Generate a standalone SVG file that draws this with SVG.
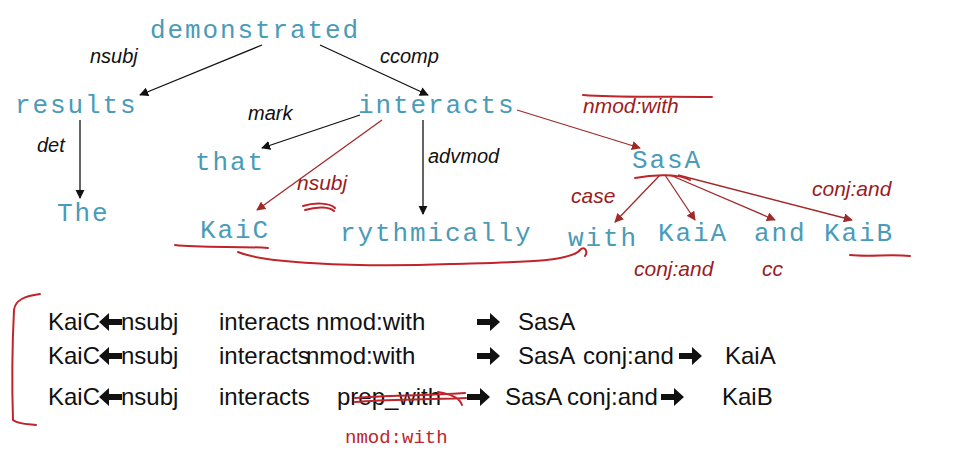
<svg xmlns="http://www.w3.org/2000/svg" width="960" height="452" viewBox="0 0 960 452">
<defs>
<style>
.w{font-family:"Liberation Mono","DejaVu Sans Mono",monospace;font-size:26px;letter-spacing:1.9px;fill:#4a9bb8}
.l{font-family:"Liberation Sans",Arial,sans-serif;font-style:italic;font-size:20px;fill:#111}
.r{font-family:"Liberation Sans",Arial,sans-serif;font-style:italic;font-size:21px;fill:#9b1c22}
.b{font-family:"Liberation Sans",Arial,sans-serif;font-size:24px;fill:#111}
.k{stroke:#111;stroke-width:1.3;fill:none;marker-end:url(#ak)}
.rd{stroke:#a02a2a;stroke-width:1.3;fill:none;marker-end:url(#ar)}
.h{stroke:#c0242a;stroke-width:2;fill:none;stroke-linecap:round}
</style>
<marker id="ak" viewBox="0 0 10 10" refX="9" refY="5" markerWidth="7" markerHeight="7" orient="auto"><path d="M0,0L10,5L0,10z" fill="#111"/></marker>
<marker id="ar" viewBox="0 0 10 10" refX="9" refY="5" markerWidth="7" markerHeight="7" orient="auto"><path d="M0,0L10,5L0,10z" fill="#a02a2a"/></marker>
<path id="la" d="M0,0l10,-9v6h13v6h-13v6z" fill="#111"/>
<path id="ra" d="M0,0l-10,-9v6h-13v6h13v6z" fill="#111"/>
</defs>
<rect width="960" height="452" fill="#fff"/>
<g id="connectors">
<path class="k" d="M262,45L140,95"/>
<path class="k" d="M320,45L428,95"/>
<path class="k" d="M80,120V198"/>
<path class="k" d="M360,115L262,148"/>
<path class="k" d="M423,120V214"/>
<path class="rd" d="M382,120L257,210"/>
<path class="rd" d="M517,110L640,148"/>
<path class="rd" d="M660,175L615,222"/>
<path class="rd" d="M665,175L695,220"/>
<path class="rd" d="M670,175L775,220"/>
<path class="rd" d="M678,175L852,220"/>
</g>
<g id="n-demonstrated"><text class="w" x="150" y="38">demonstrated</text></g>
<g id="n-results"><text class="w" x="15" y="113">results</text></g>
<g id="n-interacts"><text class="w" x="358" y="113">interacts</text></g>
<g id="n-that"><text class="w" x="195" y="170">that</text></g>
<g id="n-The"><text class="w" x="57" y="221">The</text></g>
<g id="n-KaiC"><text class="w" x="200" y="238">KaiC</text></g>
<g id="n-rythmically"><text class="w" x="340" y="241">rythmically</text></g>
<g id="n-SasA"><text class="w" x="632" y="168">SasA</text></g>
<g id="n-with"><text class="w" x="568" y="246">with</text></g>
<g id="n-KaiA"><text class="w" x="658" y="241">KaiA</text></g>
<g id="n-and"><text class="w" x="754" y="241">and</text></g>
<g id="n-KaiB"><text class="w" x="824" y="241">KaiB</text></g>
<g id="labels">
<text class="l" x="90" y="63">nsubj</text>
<text class="l" x="380" y="63">ccomp</text>
<text class="l" x="37" y="152">det</text>
<text class="l" x="248" y="120">mark</text>
<text class="l" x="428" y="163">advmod</text>
<text class="r" x="583" y="113">nmod:with</text>
<text class="r" x="297" y="190">nsubj</text>
<text class="r" x="571" y="203">case</text>
<text class="r" x="812" y="196">conj:and</text>
<text class="r" x="634" y="276">conj:and</text>
<text class="r" x="762" y="276">cc</text>
</g>
<g id="lines">
<text class="b" x="48" y="330">KaiC</text><use href="#la" x="99" y="322"/><text class="b" x="121" y="330">nsubj</text><text class="b" x="219" y="330">interacts</text><text class="b" x="316" y="330">nmod:with</text><use href="#ra" x="500" y="322"/><text class="b" x="518" y="330">SasA</text>
<text class="b" x="48" y="364">KaiC</text><use href="#la" x="99" y="356"/><text class="b" x="121" y="364">nsubj</text><text class="b" x="219" y="364">interacts</text><text class="b" x="306" y="364">nmod:with</text><use href="#ra" x="500" y="356"/><text class="b" x="518" y="364">SasA</text><text class="b" x="583" y="364">conj:and</text><use href="#ra" x="702" y="356"/><text class="b" x="725" y="364">KaiA</text>
<text class="b" x="48" y="405">KaiC</text><use href="#la" x="99" y="397"/><text class="b" x="121" y="405">nsubj</text><text class="b" x="219" y="405">interacts</text><text class="b" x="337" y="405">prep_with</text><use href="#ra" x="490" y="397"/><text class="b" x="505" y="405">SasA</text><text class="b" x="567" y="405">conj:and</text><use href="#ra" x="684" y="397"/><text class="b" x="722" y="405">KaiB</text>
</g>
<g id="ink">
<path class="h" d="M40,294C25,296 15,300 14,310C12,350 12,390 13,420C18,424 26,424 36,425"/>
<path class="h" d="M583,95C620,98 660,96 712,97"/>
<path class="h" d="M635,178C655,174 680,174 690,180"/>
<path class="h" d="M303,206C315,202 330,203 335,208M305,210C318,206 330,207 334,211"/>
<path class="h" d="M175,245C200,248 240,246 268,248"/>
<path class="h" d="M238,252C260,262 350,268 450,264C520,262 570,262 580,250C585,245 588,252 585,256"/>
<path class="h" d="M850,255C870,257 890,254 910,256"/>
<path class="h" d="M355,398C385,395 420,396 465,393M355,402C385,399 420,400 466,398M438,392C450,394 460,398 462,405"/>
<text x="345" y="443" style="font-family:'Liberation Mono',monospace;font-size:19px;fill:#c0242a">nmod:with</text>
</g>
</svg>
